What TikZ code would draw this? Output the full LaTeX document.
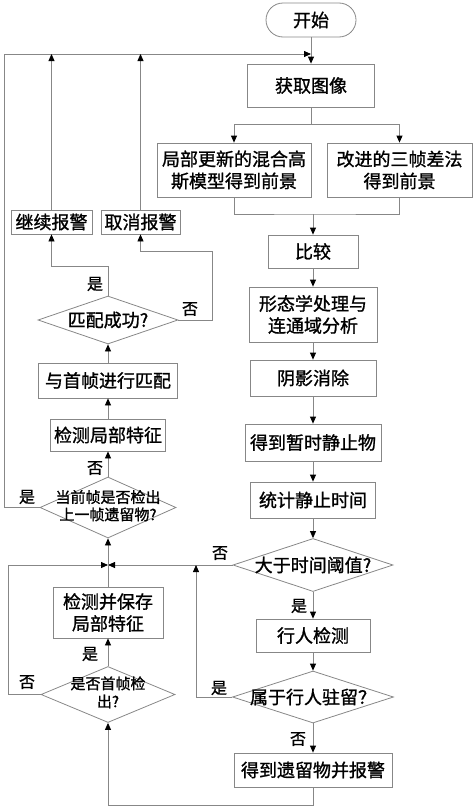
\documentclass[tikz,border=0pt]{standalone}
\usepackage{fontspec}
\setmainfont{Noto Sans CJK SC}[FakeBold=1.2,AutoFakeBold=1.2]
\usetikzlibrary{arrows.meta,shapes.geometric}
\definecolor{ln}{RGB}{135,135,135}
\newcommand\fbig{\fontsize{18pt}{22pt}\selectfont}
\newcommand\fsml{\fontsize{15pt}{16pt}\selectfont}
\newcommand\flab{\fontsize{16pt}{18pt}\selectfont}
\newcommand\zw[1]{\makebox[0pt]{#1}}
\newcommand\twol[2]{\makebox[0pt]{\begin{tabular}{@{}c@{}}#1\\#2\end{tabular}}}
\tikzset{
  box/.style={draw=ln, line width=0.8pt, rectangle, inner sep=0pt, align=center, font=\fbig},
  dia/.style={draw=ln, line width=0.8pt, diamond, inner sep=0pt, font=\fbig},
  conn/.style={draw=ln, line width=0.8pt},
  arr/.style={-{Triangle[length=7pt,width=6pt,color=black]}},
  lab/.style={inner sep=0pt, font=\flab}
}
\begin{document}
\begin{tikzpicture}[x=1pt,y=-1pt]
\useasboundingbox (0,0) rectangle (474,806);
% right column
\node[box, rounded corners=17pt, minimum width=90pt, minimum height=34pt] (start) at (311,20) {开始};
\node[box, minimum width=127pt, minimum height=43pt] (get) at (311,85.5) {获取图像};
\node[box, minimum width=154pt, minimum height=54pt] (gmm) at (234,170) {局部更新的混合高\\斯模型得到前景};
\node[box, minimum width=145pt, minimum height=54pt] (tfd) at (399.5,170) {改进的三帧差法\\得到前景};
\node[box, minimum width=90pt, minimum height=33pt] (cmp) at (313,251.5) {比较};
\node[box, minimum width=128pt, minimum height=55pt] (morph) at (313,314.5) {形态学处理与\\连通域分析};
\node[box, minimum width=126pt, minimum height=36pt] (shadow) at (313,378) {阴影消除};
\node[box, minimum width=136pt, minimum height=37pt] (temp) at (313,442.5) {得到暂时静止物};
\node[box, minimum width=125pt, minimum height=36pt] (stat) at (313,500) {统计静止时间};
\node[dia, minimum width=160pt, minimum height=53pt] (dT) at (313,565) {\zw{大于时间阈值?}};
\node[box, minimum width=114pt, minimum height=33pt] (ped) at (313,635.5) {行人检测};
\node[dia, minimum width=161pt, minimum height=52pt] (dP) at (313,697) {\zw{属于行人驻留？}};
\node[box, minimum width=158pt, minimum height=34pt] (leftover) at (313,770) {得到遗留物并报警};
% left column
\node[box, minimum width=81pt, minimum height=24pt] (cont) at (51.5,222) {继续报警};
\node[box, minimum width=79pt, minimum height=24pt] (cancel) at (140.5,222) {取消报警};
\node[dia, minimum width=140pt, minimum height=48pt] (dM) at (108,320) {\zw{匹配成功?}};
\node[box, minimum width=139pt, minimum height=35pt] (match) at (108,380.5) {与首帧进行匹配};
\node[box, minimum width=115pt, minimum height=32pt] (detF) at (108,435) {检测局部特征};
\node[dia, minimum width=136pt, minimum height=61pt, font=\fsml] (dC) at (108,507.5) {\twol{当前帧是否检出}{上一帧遗留物?}};
\node[box, minimum width=110pt, minimum height=51pt] (saveF) at (108,612.5) {检测并保存\\局部特征};
\node[dia, minimum width=134pt, minimum height=56pt, font=\fsml] (dF) at (108,694.5) {\fontsize{15pt}{18pt}\selectfont\twol{是否首帧检}{出?}};
% coordinates
\coordinate (topJ) at (311,54);
\coordinate (tl) at (4,54);
\coordinate (sp) at (311,124);
\coordinate (mg) at (313,214);
\coordinate (bot) at (313,805);
\coordinate (jn) at (108,565);
\coordinate (lf) at (8,565);
\coordinate (pj) at (196,565);
\coordinate (my) at (108,266);
\coordinate (nx) at (212,251);
% connectors
\draw[conn,arr] (start.south) -- (get.north);
\draw[conn,arr] (dC.west) -| (tl) -- (topJ);
\draw[conn,arr] (cont.north) -- (cont.north |- topJ);
\draw[conn,arr] (cancel.north) -- (cancel.north |- topJ);
\draw[conn,arr] (get.south) -- (sp) -| (gmm.north);
\draw[conn,arr] (sp) -| (tfd.north);
\draw[conn] (gmm.south) |- (mg) -| (tfd.south);
\draw[conn,arr] (mg) -- (cmp.north);
\draw[conn,arr] (cmp) -- (morph);
\draw[conn,arr] (morph) -- (shadow);
\draw[conn,arr] (shadow) -- (temp);
\draw[conn,arr] (temp) -- (stat);
\draw[conn,arr] (stat) -- (dT);
\draw[conn,arr] (dT) -- (ped);
\draw[conn,arr] (ped) -- (dP);
\draw[conn,arr] (dP) -- (leftover);
\draw[conn,arr] (leftover.south) -- (bot) -| (dF.south);
\draw[conn,arr] (dT.west) -- (jn);
\draw[conn,arr] (dF.west) -| (lf) -- (jn);
\draw[conn,arr] (dP.west) -| (pj);
\draw[conn,arr] (dF.north) -- (saveF.south);
\draw[conn,arr] (saveF.north) -- (dC.south);
\draw[conn,arr] (dC.north) -- (detF.south);
\draw[conn,arr] (detF) -- (match);
\draw[conn,arr] (match) -- (dM);
\draw[conn,arr] (dM.north) -- (my) -| (cont.south);
\draw[conn,arr] (dM.east) -| (nx) -| (cancel.south);
% labels
\node[lab] (l1) at (299,606) {是};
\node[lab] (l2) at (298,739) {否};
\node[lab] (l3) at (219,688) {是};
\node[lab] (l4) at (220,553) {否};
\node[lab] (l5) at (27,682) {否};
\node[lab] (l6) at (90,654) {是};
\node[lab] (l7) at (95,468) {否};
\node[lab] (l8) at (27,497) {是};
\node[lab] (l9) at (95,284) {是};
\node[lab] (l10) at (190,309) {否};
\end{tikzpicture}
\end{document}
